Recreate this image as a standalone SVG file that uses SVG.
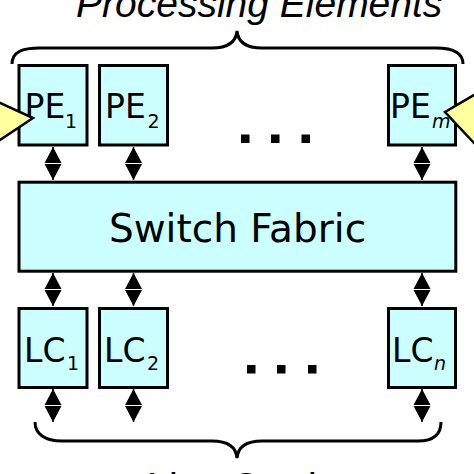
<svg xmlns="http://www.w3.org/2000/svg" width="474" height="474" viewBox="0 0 474 474">
<style>
.box{fill:#ccffff;stroke:#000;stroke-width:3}
.lbl{font-family:"DejaVu Sans",Verdana,sans-serif;font-size:33px;fill:#000}
.sub{font-size:19px}
.ital{font-style:italic}
.title{font-family:"Liberation Sans",Arial,sans-serif;font-style:italic;font-size:39px;fill:#000}
.brace{fill:none;stroke:#000;stroke-width:3}
.head{fill:#000}
.shaft{stroke:#000;stroke-width:1.5}
.gap{stroke:#fff;stroke-width:1}
.dot{fill:#000}
.call{fill:#ffffa0;stroke:#000;stroke-width:2.5;stroke-linejoin:miter}
</style>
<defs>
<g id="darrow">
<line class="shaft" x1="0" y1="0" x2="0" y2="33"/>
<polygon class="head" points="0,0 -8.5,16 8.5,16"/>
<polygon class="head" points="-8.5,17 8.5,17 0,33"/>
<line class="gap" x1="-5" y1="16.5" x2="5" y2="16.5"/>
</g>
</defs>
<text class="title" x="76" y="17">Processing Elements</text>
<path class="brace" d="M12,64 C12,52 22,48 40,48 L212,48 C228,48 236,42 237,31 C238,42 246,48 262,48 L436,48 C455,48 463,54 463,64"/>
<g id="pe1"><rect class="box" x="19" y="65.5" width="68" height="79.5"/><text class="lbl" x="24.5" y="118">PE<tspan class="sub" x="65" y="128">1</tspan></text></g>
<g id="pe2"><rect class="box" x="99.5" y="65.5" width="68" height="79.5"/><text class="lbl" x="105" y="118">PE<tspan class="sub" x="147.5" y="128">2</tspan></text></g>
<g id="pem"><rect class="box" x="388.5" y="65.5" width="67" height="79.5"/><text class="lbl" x="390" y="118">PE<tspan class="sub ital" x="432" y="128">m</tspan></text></g>
<g id="sf"><rect class="box" x="19" y="182.2" width="436.8" height="89"/><text class="lbl" style="font-size:39px" x="237.5" y="242" text-anchor="middle">Switch Fabric</text></g>
<g id="lc1"><rect class="box" x="19" y="308.5" width="68" height="79"/><text class="lbl" x="24" y="361.5">LC<tspan class="sub" x="67" y="370">1</tspan></text></g>
<g id="lc2"><rect class="box" x="99.5" y="308.5" width="68" height="79"/><text class="lbl" x="104" y="361.5">LC<tspan class="sub" x="147" y="370">2</tspan></text></g>
<g id="lcn"><rect class="box" x="388.5" y="308.5" width="67" height="79"/><text class="lbl" x="392" y="361.5">LC<tspan class="sub ital" x="434" y="370">n</tspan></text></g>
<g id="connectors">
<use href="#darrow" x="53" y="147"/>
<use href="#darrow" x="133.5" y="147"/>
<use href="#darrow" x="422" y="147"/>
<use href="#darrow" x="53" y="273"/>
<use href="#darrow" x="133.5" y="273"/>
<use href="#darrow" x="422" y="273"/>
<use href="#darrow" x="53" y="389"/>
<use href="#darrow" x="133.5" y="389"/>
<use href="#darrow" x="422" y="389"/>
</g>
<g id="dots">
<rect class="dot" x="241" y="134.5" width="8.5" height="8.5"/>
<rect class="dot" x="271" y="134.5" width="8.5" height="8.5"/>
<rect class="dot" x="301.5" y="134.5" width="8.5" height="8.5"/>
<rect class="dot" x="247" y="365" width="8.5" height="8.5"/>
<rect class="dot" x="277" y="365" width="8.5" height="8.5"/>
<rect class="dot" x="308" y="365" width="8.5" height="8.5"/>
</g>
<polygon class="call" points="-5,100.7 33,118 -5,143.3"/>
<polygon class="call" points="480,91.5 445,112 480,149.4"/>
<path class="brace" d="M35,422 C35,434 45,441 62,441 L212,441 C228,441 236,447 237,458 C238,447 246,441 262,441 L418,441 C434,441 441,434 441,422"/>
<text class="title" x="144" y="500">Line Cards</text>
</svg>
